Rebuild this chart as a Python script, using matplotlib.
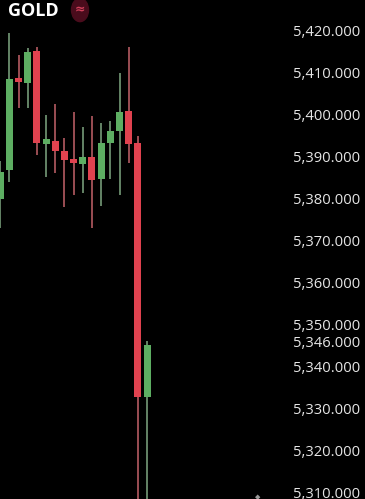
import matplotlib.pyplot as plt
from matplotlib.patches import Circle

# OHLC values (one candle per entry)
opens = [5380.0, 5386.9, 5408.6, 5407.6, 5415.2, 5393.1, 5393.8, 5391.4, 5389.5,
         5388.3, 5390.0, 5384.8, 5393.3, 5396.2, 5401.0, 5393.3, 5332.9]
closes = [5386.4, 5408.6, 5407.9, 5415.0, 5393.3, 5394.3, 5391.4, 5389.3, 5388.6,
          5390.0, 5384.5, 5393.3, 5396.2, 5400.7, 5393.1, 5332.9, 5345.2]
highs = [5389.0, 5419.5, 5414.3, 5416.0, 5416.2, 5400.0, 5402.6, 5394.5, 5400.7,
         5397.1, 5399.8, 5398.1, 5398.6, 5410.0, 5416.2, 5395.0, 5346.2]
lows = [5373.1, 5384.0, 5401.7, 5401.7, 5390.5, 5385.2, 5386.2, 5378.1, 5381.0,
        5381.4, 5373.1, 5378.3, 5384.8, 5381.0, 5388.6, 5300.0, 5300.0]

price_ticks = [5420, 5410, 5400, 5390, 5380, 5370, 5360, 5350, 5346, 5340, 5330, 5320, 5310]
tick_labels = ["5,420.000", "5,410.000", "5,400.000", "5,390.000", "5,380.000",
               "5,370.000", "5,360.000", "5,350.000", "5,346.000", "5,340.000",
               "5,330.000", "5,320.000", "5,310.000"]

UP = '#5dae62'
DOWN = '#e0424f'
UP_WICK = '#7fa882'
DOWN_WICK = '#c4626b'

fig = plt.figure(figsize=(3.65, 4.99), dpi=100, facecolor='black')
ax = fig.add_axes([0, 0, 1, 1])
ax.set_facecolor('black')

xs = list(range(len(opens)))
for x, o, c, h, l in zip(xs, opens, closes, highs, lows):
    up = c >= o
    ax.vlines(x, l, h, color=UP_WICK if up else DOWN_WICK, linewidth=1.1, zorder=1)
    bottom = min(o, c)
    height = max(abs(c - o), 0.8)
    ax.bar(x, height, bottom=bottom, width=0.76, color=UP if up else DOWN,
           linewidth=0, zorder=2)

ax.set_xlim(-0.02, 39.74)
ax.set_ylim(5308.57, 5427.38)

# price scale on the right, labels drawn inside the plot
ax.yaxis.tick_right()
ax.set_yticks(price_ticks)
ax.set_yticklabels(tick_labels)
ax.tick_params(axis='y', length=0, pad=-3.6, labelsize=10.6, labelcolor='#e6e6e6')
for lbl in ax.get_yticklabels():
    lbl.set_horizontalalignment('right')
    lbl.set_fontfamily('Open Sans')
ax.set_xticks([])
for s in ax.spines.values():
    s.set_visible(False)

# header
fig.text(8 / 365, 1 - 11 / 499, "GOLD", color='white', fontsize=13, fontweight='bold',
         family='Open Sans', ha='left', va='center')
circ = Circle((80 / 365, 1 - 10 / 499), 8.5 / 365, transform=fig.transFigure,
              color='#4a0c1c', zorder=5)
fig.patches.append(circ)
fig.text(80 / 365, 1 - 10 / 499, "≈", color='#d0405a', fontsize=9, fontweight='bold',
         ha='center', va='center', zorder=6)

# faint marker near the bottom edge
fig.text(258 / 365, 1 - 497 / 499, "◆", color='#9a9a9a', fontsize=5,
         ha='center', va='center')

fig.savefig('out.png', dpi=100, facecolor='black')
